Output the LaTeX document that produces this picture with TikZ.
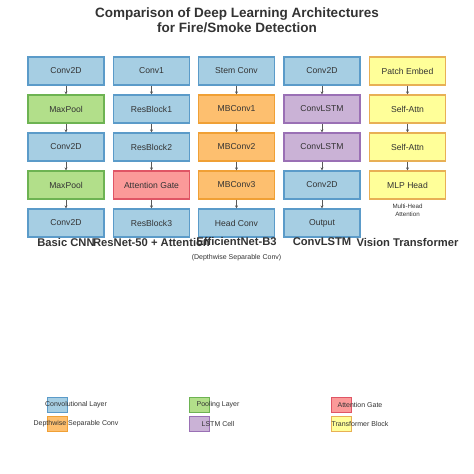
\documentclass[tikz,border=0pt]{standalone}
\usepackage{fontspec}
\setmainfont{Liberation Sans}
\usetikzlibrary{arrows.meta}
\definecolor{txt}{HTML}{333333}
\definecolor{bluef}{HTML}{A6CEE3}\definecolor{bluee}{HTML}{5B9BC9}
\definecolor{greenf}{HTML}{B2DF8A}\definecolor{greene}{HTML}{6DB352}
\definecolor{orangef}{HTML}{FDBF6F}\definecolor{orangee}{HTML}{F0A035}
\definecolor{purplef}{HTML}{CAB2D6}\definecolor{purplee}{HTML}{9A70B5}
\definecolor{redf}{HTML}{FB9A99}\definecolor{rede}{HTML}{E05565}
\definecolor{yellowf}{HTML}{FFFF99}\definecolor{yellowe}{HTML}{E8B055}
\tikzset{
  layer/.style={rectangle, minimum width=76pt, minimum height=28pt, line width=1.2pt, inner sep=0pt, font=\fontsize{8.6}{10}\selectfont, text=txt},
  conv/.style={layer, fill=bluef, draw=bluee},
  pool/.style={layer, fill=greenf, draw=greene},
  dws/.style={layer, fill=orangef, draw=orangee},
  lstm/.style={layer, fill=purplef, draw=purplee},
  attg/.style={layer, fill=redf, draw=rede},
  trans/.style={layer, fill=yellowf, draw=yellowe},
  flow/.style={draw=black!65, line width=0.7pt, -{Stealth[length=3pt,width=3pt]}},
  coltitle/.style={font=\bfseries\fontsize{11.2}{13}\selectfont, text=txt, inner sep=0pt},
  note/.style={font=\fontsize{6.2}{8}\selectfont, text=txt, inner sep=0pt, align=center},
  legbox/.style={rectangle, minimum width=20pt, minimum height=15pt, line width=0.9pt, inner sep=0pt},
  legtxt/.style={font=\fontsize{7}{8}\selectfont, text=txt, inner sep=0pt}
}
\begin{document}
\begin{tikzpicture}[x=1pt,y=-1pt]
\useasboundingbox[fill=white] (0,0) rectangle (474,474);
\node[font=\bfseries\fontsize{13.5}{14}\selectfont, text=txt] (t1) at (237,14) {Comparison of Deep Learning Architectures};
\node[font=\bfseries\fontsize{13.5}{14}\selectfont, text=txt] (t2) at (237,28) {for Fire/Smoke Detection};
% column 1
\node[conv] (a1) at (66,71) {Conv2D};
\node[pool] (a2) at (66,109) {MaxPool};
\node[conv] (a3) at (66,147) {Conv2D};
\node[pool] (a4) at (66,185) {MaxPool};
\node[conv] (a5) at (66,223) {Conv2D};
% column 2
\node[conv] (b1) at (151.5,71) {Conv1};
\node[conv] (b2) at (151.5,109) {ResBlock1};
\node[conv] (b3) at (151.5,147) {ResBlock2};
\node[attg] (b4) at (151.5,185) {Attention Gate};
\node[conv] (b5) at (151.5,223) {ResBlock3};
% column 3
\node[conv] (c1) at (236.5,71) {Stem Conv};
\node[dws] (c2) at (236.5,109) {MBConv1};
\node[dws] (c3) at (236.5,147) {MBConv2};
\node[dws] (c4) at (236.5,185) {MBConv3};
\node[conv] (c5) at (236.5,223) {Head Conv};
% column 4
\node[conv] (d1) at (322,71) {Conv2D};
\node[lstm] (d2) at (322,109) {ConvLSTM};
\node[lstm] (d3) at (322,147) {ConvLSTM};
\node[conv] (d4) at (322,185) {Conv2D};
\node[conv] (d5) at (322,223) {Output};
% column 5
\node[trans] (e1) at (407.5,71) {Patch Embed};
\node[trans] (e2) at (407.5,109) {Self-Attn};
\node[trans] (e3) at (407.5,147) {Self-Attn};
\node[trans] (e4) at (407.5,185) {MLP Head};
\foreach \c in {a,b,c,d}{
  \foreach \i [evaluate=\i as \j using int(\i+1)] in {1,2,3,4}{
    \draw[flow] (\c\i.south) -- (\c\j.north);
  }
}
\foreach \i [evaluate=\i as \j using int(\i+1)] in {1,2,3}{
  \draw[flow] (e\i.south) -- (e\j.north);
}
\node[note] (mha) at (407.5,210.5) {Multi-Head\\[-0.5pt]Attention};
% column titles
\node[coltitle] (n1) at (66,242) {Basic CNN};
\node[coltitle] (n2) at (151.5,242) {ResNet-50 + Attention};
\node[coltitle] (n3) at (236.5,242) {EfficientNet-B3};
\node[coltitle] (n4) at (322,242) {ConvLSTM};
\node[coltitle] (n5) at (407.5,242) {Vision Transformer};
\node[note, font=\fontsize{7}{8}\selectfont] (dsc) at (236.5,258) {(Depthwise Separable Conv)};
% legend
\node[legbox, fill=bluef, draw=bluee] (l1) at (57,405) {};
\node[legbox, fill=orangef, draw=orangee] (l2) at (57,424) {};
\node[legbox, fill=greenf, draw=greene] (l3) at (199,405) {};
\node[legbox, fill=purplef, draw=purplee] (l4) at (199,424) {};
\node[legbox, fill=redf, draw=rede] (l5) at (341,405) {};
\node[legbox, fill=yellowf, draw=yellowe] (l6) at (341,424) {};
\node[legtxt] (k1) at (76,405) {Convolutional Layer};
\node[legtxt] (k2) at (76,424) {Depthwise Separable Conv};
\node[legtxt] (k3) at (218,405) {Pooling Layer};
\node[legtxt] (k4) at (218,424) {LSTM Cell};
\node[legtxt] (k5) at (360,405) {Attention Gate};
\node[legtxt] (k6) at (360,424) {Transformer Block};
\end{tikzpicture}
\end{document}
